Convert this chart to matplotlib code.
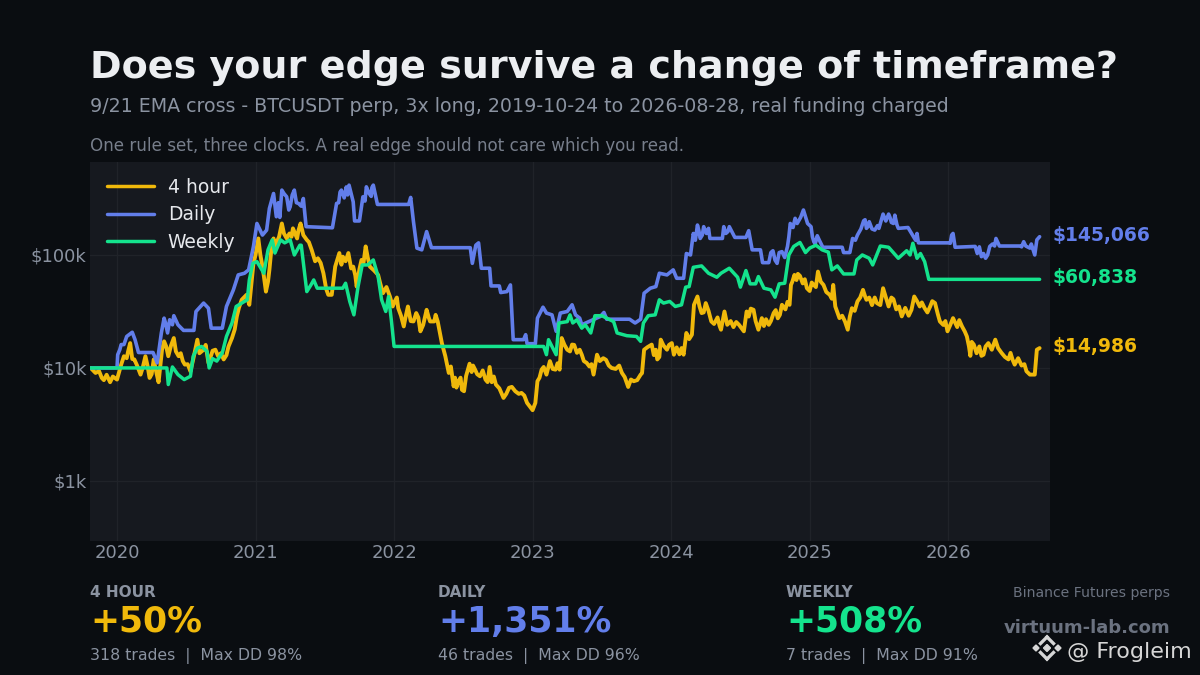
import matplotlib
matplotlib.use("Agg")
import matplotlib.pyplot as plt
from matplotlib.patches import Polygon

BG = "#0a0d11"
PANEL = "#16191f"
GRID = "#202329"
MUTED = "#8b93a1"
GOLD = "#f0b90b"
BLUE = "#627eea"
GREEN = "#14e38d"

years = [2020, 2021, 2022, 2023, 2024, 2025, 2026]
y_ticks = [1000, 10000, 100000]
y_labels = ["$1k", "$10k", "$100k"]

h4_t = [2019.81,2019.845,2019.89,2019.95,2020.0,2020.03,2020.05,2020.095,2020.125,2020.17,2020.205,2020.235,2020.265,2020.30,
2020.325,2020.34,2020.37,2020.41,2020.445,2020.49,2020.53,2020.55,2020.58,2020.625,2020.66,2020.71,2020.73,2020.77,2020.805,2020.83,
2020.865,2020.90,2020.935,2020.955,2020.985,2021.02,2021.05,2021.075,2021.10,2021.13,2021.15,2021.19,2021.225,2021.27,2021.30,2021.325,
2021.37,2021.405,2021.45,2021.49,2021.525,2021.55,2021.575,2021.605,2021.63,2021.67,2021.705,2021.73,2021.765,2021.795,2021.825,2021.885,
2021.92,2021.97,2022.005,2022.03,2022.07,2022.10,2022.14,2022.16,2022.19,2022.235,2022.26,2022.29,2022.30,2022.315,2022.345,2022.37,
2022.395,2022.41,2022.43,2022.465,2022.505,2022.545,2022.585,2022.62,2022.66,2022.69,2022.705,2022.735,2022.79,2022.83,2022.875,2022.92,
2022.96,2023.0,2023.02,2023.035,2023.065,2023.10,2023.125,2023.165,2023.195,2023.21,2023.25,2023.285,2023.32,2023.355,2023.39,2023.44,
2023.465,2023.51,2023.57,2023.645,2023.69,2023.73,2023.78,2023.805,2023.86,2023.90,2023.925,2023.97,2024.005,2024.02,2024.09,2024.11,
2024.15,2024.165,2024.19,2024.22,2024.25,2024.29,2024.36,2024.385,2024.405,2024.49,2024.525,2024.545,2024.595,2024.63,2024.655,2024.705,
2024.74,2024.785,2024.80,2024.855,2024.865,2024.89,2024.93,2024.98,2025.03,2025.06,2025.10,2025.145,2025.17,2025.185,2025.215,2025.255,
2025.275,2025.305,2025.345,2025.385,2025.41,2025.485,2025.53,2025.57,2025.605,2025.665,2025.735,2025.755,2025.795,2025.83,2025.87,2025.905,
2025.94,2025.995,2026.035,2026.10,2026.135,2026.16,2026.185,2026.255,2026.29,2026.34,2026.385,2026.435,2026.45,2026.48,2026.505,2026.565,
2026.59,2026.625,2026.64,2026.66]
h4_v = [10000,9030,8160,7480,7890,10700,12700,16600,11900,8730,12700,8160,11900,7480,
14500,17200,12700,18400,12700,10700,9340,11900,17800,14500,11100,14500,12700,11900,15500,18400,
28600,40100,44400,36200,84300,140000,78900,47400,73800,140000,127000,190000,140000,172000,140000,190000,
136000,111000,93500,68900,44400,44400,78900,104000,96600,104000,78900,52500,90400,119000,78900,66600,
45900,42900,38800,33800,23300,35000,25800,30600,21100,32700,25800,25800,29500,25800,16600,12700,
9030,10300,6880,7630,6220,10900,9660,8440,7890,10200,7480,7130,5430,6670,6220,6010,
4910,4230,4910,7630,9660,8730,11500,9660,9660,18400,14500,16100,13600,13100,11100,8730,
13100,12200,10000,9030,6790,7630,8730,14500,16100,11900,17800,14500,16600,13100,13100,20400,
19700,36200,42900,30600,37500,25800,21800,31600,24100,24100,21100,31600,32700,21800,27600,24100,
30600,29500,36200,36200,54300,66600,65300,50800,54300,71300,54300,44400,54300,35000,27600,25800,
21800,33800,38800,49100,40100,37500,50800,35000,40600,28600,32700,42900,35000,33800,35000,37500,
25800,21100,27600,23300,19000,12800,16100,13100,16600,17800,13600,11900,13600,10700,12200,9350,
8730,8730,14500,14986]

# Smaller swings of the 4 hour line, read separately
h4_fine_t = [2019.87,2019.905,2019.925,2019.97,2020.07,2020.08,2020.11,2020.145,2020.185,2020.22,2020.25,2020.285,2020.355,2020.39,2020.425,2020.46,2020.475,
2020.51,2020.595,2020.64,2020.68,2020.69,2020.75,2020.79,2020.85,2020.88,2021.0,2021.035,2021.06,2021.09,2021.115,2021.14,2021.17,2021.205,2021.245,2021.26,
2021.31,2021.345,2021.385,2021.43,2021.47,2021.51,2021.62,2021.65,2021.69,2021.72,2021.75,2021.78,2021.81,2021.855,2021.90,2021.945,2021.99,2022.02,2022.05,
2022.085,2022.12,2022.175,2022.21,2022.25,2022.44,2022.45,2022.48,2022.49,2022.52,2022.56,2022.57,2022.60,2022.64,2022.675,2022.72,2022.76,2022.81,2022.85,
2022.90,2022.94,2023.05,2023.08,2023.145,2023.18,2023.23,2023.27,2023.30,2023.34,2023.37,2023.41,2023.425,2023.485,2023.53,2023.55,2023.60,2023.625,2023.665,
2023.71,2023.755,2023.79,2023.83,2023.875,2023.89,2023.915,2023.945,2023.985,2024.04,2024.06,2024.075,2024.13,2024.205,2024.235,2024.27,2024.31,2024.335,2024.35,
2024.43,2024.45,2024.47,2024.56,2024.575,2024.61,2024.67,2024.685,2024.72,2024.755,2024.77,2024.825,2024.84,2024.875,2024.905,2024.915,2024.95,2024.965,2025.0,
2025.015,2025.045,2025.08,2025.12,2025.16,2025.2,2025.235,2025.29,2025.325,2025.365,2025.40,2025.43,2025.45,2025.47,2025.51,2025.55,2025.59,2025.625,2025.645,
2025.69,2025.715,2025.775,2025.81,2025.85,2025.885,2025.925,2025.965,2025.98,2026.015,2026.065,2026.08,2026.12,2026.15,2026.17,2026.205,2026.225,2026.24,2026.27,
2026.315,2026.36,2026.41,2026.465,2026.53,2026.55]
h4_fine_v = [9400,7800,8700,8400,12200,14000,12000,10500,10000,10500,8800,9000,15500,15800,14000,13500,11500,
10800,13500,16000,13000,14200,13500,13000,22000,34000,100000,100000,65000,58000,115000,112000,145000,155000,155000,145000,
165000,150000,130000,88000,85000,50000,82000,88000,76000,66000,75000,86000,95000,73000,56000,52000,35000,42000,29000,
29000,26000,28000,24000,28000,8200,6700,8200,6400,8500,9200,10500,8800,9500,7500,8400,6600,5900,6800,
5900,5700,8200,10200,9800,11000,16000,14000,16000,14500,11500,10300,10800,11500,11800,10500,9800,10500,8300,
7900,7800,9000,15300,13000,14500,12500,15800,16000,15200,13200,15000,18000,35000,31000,32000,24500,28000,23500,
26000,23000,25500,28500,33500,26000,23500,27000,26000,32500,27500,33000,38500,58000,60000,68000,56000,61000,48000,
57000,52000,58000,47000,41000,31000,29000,28500,32000,42000,43000,42000,36000,42000,36000,42000,42000,33000,35000,
34000,29000,39000,38000,31000,39000,30000,24000,26000,24000,23000,26500,21000,15500,17000,13500,15500,12800,15500,
14500,15000,12500,11800,10500,10800]

daily_t = [2019.81,2020.0,2020.005,2020.03,2020.05,2020.07,2020.11,2020.13,2020.155,2020.26,2020.29,2020.32,2020.34,2020.365,2020.38,2020.40,2020.41,
2020.44,2020.48,2020.555,2020.57,2020.625,2020.66,2020.68,2020.76,2020.79,2020.84,2020.875,2020.92,2020.95,2020.985,2021.01,2021.05,2021.08,
2021.10,2021.13,2021.15,2021.19,2021.225,2021.25,2021.28,2021.31,2021.345,2021.365,2021.555,2021.585,2021.62,2021.675,2021.705,2021.715,2021.75,
2021.775,2021.80,2021.82,2021.85,2021.88,2022.09,2022.12,2022.14,2022.165,2022.20,2022.235,2022.27,2022.55,2022.565,2022.59,2022.61,2022.63,
2022.69,2022.70,2022.76,2022.77,2022.815,2022.84,2022.86,2022.935,2022.95,2022.96,2023.02,2023.035,2023.075,2023.10,2023.14,2023.17,2023.2,
2023.25,2023.285,2023.31,2023.34,2023.355,2023.49,2023.515,2023.535,2023.70,2023.74,2023.78,2023.805,2023.85,2023.89,2023.915,2023.97,2024.015,
2024.04,2024.09,2024.11,2024.14,2024.16,2024.19,2024.21,2024.235,2024.27,2024.28,2024.37,2024.38,2024.41,2024.42,2024.46,2024.54,2024.56,2024.585,
2024.645,2024.66,2024.705,2024.735,2024.765,2024.80,2024.84,2024.86,2024.895,2024.955,2024.985,2025.01,2025.03,2025.055,2025.095,2025.235,2025.245,
2025.29,2025.31,2025.345,2025.39,2025.41,2025.43,2025.47,2025.5,2025.53,2025.57,2025.59,2025.615,2025.64,2025.71,2025.75,2025.775,2025.785,2026.0,
2026.025,2026.05,2026.195,2026.21,2026.24,2026.27,2026.30,2026.345,2026.37,2026.52,2026.545,2026.59,2026.625,2026.64,2026.66]
daily_v = [10000,10000,13100,16100,16100,19000,20700,17800,13700,13700,11100,20400,27600,20400,26700,24100,29000,
24100,21500,21500,31600,37500,33800,22500,22500,35000,49100,66600,68900,73800,119000,190000,150000,166000,
258000,350000,218000,375000,327000,267000,375000,286000,316000,178000,174000,286000,375000,415000,295000,200000,200000,
327000,401000,350000,415000,280000,280000,323000,197000,115000,111000,161000,116000,116000,84300,122000,128000,76300,
76300,53200,53200,46500,47400,54300,17800,17800,19700,16400,16400,27600,34500,30600,29500,21100,30600,
31600,36200,29500,27600,24100,28600,31000,27000,27000,25000,27000,45900,50800,52500,68900,66600,73800,
62200,62200,103000,100000,155000,184000,140000,178000,172000,140000,140000,178000,161000,178000,143000,143000,164000,111000,
111000,85500,85500,109000,84300,107000,119000,190000,211000,250000,190000,178000,131000,148000,117000,117000,105000,
105000,140000,150000,201000,172000,197000,166000,172000,230000,230000,194000,225000,172000,175000,145000,155000,128000,128000,
150000,117000,119000,103000,96600,93500,119000,140000,120000,120000,131000,115000,100000,136000,145066]

# Smaller swings of the daily line, read separately
daily_fine_t = [2020.02,2020.35,2021.165,2021.175,2021.205,2021.24,2021.265,2021.295,2021.33,2021.60,2021.61,2021.64,2021.655,2021.665,2021.79,2021.835,2021.84,
2022.105,2024.175,2024.20,2024.225,2024.255,2024.395,2024.72,2024.75,2024.78,2024.82,2024.85,2024.88,2024.91,2024.935,2025.02,2025.04,2025.07,2025.33,2025.37,
2025.40,2025.42,2025.45,2025.49,2025.55,2025.58,2025.605,2025.63,2025.765,2026.015,2026.035,2026.225,2026.255,2026.285,2026.32,2026.335,2026.53,2026.56,2026.60]
daily_fine_v = [14500,25000,290000,215000,350000,250000,340000,290000,270000,290000,360000,320000,400000,340000,300000,330000,395000,
280000,135000,165000,150000,155000,155000,105000,90000,105000,95000,145000,175000,190000,215000,145000,125000,135000,135000,170000,
205000,178000,170000,182000,200000,215000,190000,185000,135000,127000,155000,118000,103000,100000,125000,120000,118000,120000,125000]

weekly_t = [2019.81,2020.36,2020.37,2020.40,2020.44,2020.485,2020.53,2020.55,2020.58,2020.61,2020.65,2020.665,2020.69,2020.72,2020.76,2020.79,2020.83,
2020.86,2020.90,2020.94,2020.955,2020.98,2021.01,2021.06,2021.09,2021.12,2021.14,2021.18,2021.21,2021.25,2021.28,2021.32,2021.33,2021.37,2021.40,
2021.42,2021.445,2021.63,2021.65,2021.68,2021.71,2021.74,2021.77,2021.81,2021.85,2021.885,2021.91,2021.94,2021.96,2021.98,2022.0,2023.08,2023.10,
2023.115,2023.17,2023.19,2023.25,2023.27,2023.29,2023.32,2023.355,2023.38,2023.42,2023.45,2023.50,2023.585,2023.61,2023.68,2023.75,2023.78,2023.80,
2023.835,2023.885,2023.915,2023.945,2023.99,2024.03,2024.075,2024.105,2024.13,2024.16,2024.22,2024.27,2024.33,2024.36,2024.42,2024.48,2024.5,2024.54,
2024.57,2024.61,2024.63,2024.67,2024.72,2024.75,2024.78,2024.82,2024.85,2024.885,2024.93,2024.97,2025.0,2025.045,2025.09,2025.135,2025.16,2025.2,
2025.245,2025.32,2025.34,2025.38,2025.43,2025.455,2025.51,2025.57,2025.64,2025.7,2025.725,2025.745,2025.775,2025.8,2025.83,2025.86,2026.66]
weekly_v = [10000,10000,7130,10200,8730,7890,8440,12700,15000,15500,14000,10000,12100,11500,13600,19000,25000,
35000,37500,40100,60100,84300,87300,68900,111000,136000,104000,136000,128000,136000,100000,122000,122000,47400,54300,
60100,50800,50800,56200,38800,29500,52500,81600,81600,90400,64400,40100,31600,42900,26700,15500,15500,13100,
17800,13100,25000,25700,29500,25000,26700,22500,24100,20400,29000,29000,25700,20400,19300,19000,17200,25000,
29000,29500,40100,37500,38800,35000,36200,51900,52500,77800,80000,68900,63500,68900,76300,63500,51900,72800,
55500,55500,64400,50800,49100,42300,55500,56200,100000,119000,129000,105000,115000,122000,111000,106000,73800,80000,
67900,67900,90400,100000,93500,81600,120000,117000,93500,109000,100000,127000,93500,103000,87300,60838,60838]

series_names = ["4 hour", "Daily", "Weekly"]
end_labels = ["$14,986", "$145,066", "$60,838"]
stat_heads = ["4 HOUR", "DAILY", "WEEKLY"]
stat_returns = ["+50%", "+1,351%", "+508%"]
stat_notes = ["318 trades  |  Max DD 98%", "46 trades  |  Max DD 96%", "7 trades  |  Max DD 91%"]

W, H = 1200, 675
fig = plt.figure(figsize=(12, 6.75), dpi=100, facecolor=BG)
ax = fig.add_axes([90 / W, 1 - 541 / H, 960 / W, 379 / H], facecolor=PANEL)


def fx(p):
    return p / W


def fy(p):
    return 1 - p / H


def merged(t, v, ft=(), fv=()):
    pairs = sorted(zip(list(t) + list(ft), list(v) + list(fv)), key=lambda p: p[0])
    return [p[0] for p in pairs], [p[1] for p in pairs]


lines = [merged(h4_t, h4_v, h4_fine_t, h4_fine_v), merged(daily_t, daily_v, daily_fine_t, daily_fine_v), merged(weekly_t, weekly_v)]
colors = [GOLD, BLUE, GREEN]
widths = [2.8, 2.6, 2.5]
for (t, v), c, lw, name in zip(lines, colors, widths, series_names):
    ax.plot(t, v, color=c, lw=lw, label=name, solid_joinstyle="round", solid_capstyle="round")

ax.set_yscale("log")
ax.set_xlim(2019.805, 2026.735)
ax.set_ylim(294, 665000)
ax.set_xticks(years, [str(y) for y in years])
ax.set_yticks(y_ticks, y_labels)
ax.minorticks_off()
ax.tick_params(axis="both", length=0, colors=MUTED, labelsize=13, pad=2.5)
ax.grid(True, color=GRID, lw=1)
ax.set_axisbelow(True)
for s in ax.spines.values():
    s.set_visible(False)

leg = ax.legend(loc="upper left", bbox_to_anchor=(0.0, 1.003), frameon=False, fontsize=13.5, handlelength=2.5,
                handletextpad=0.75, labelspacing=0.46, labelcolor="#e6e8ec")
for line in leg.get_lines():
    line.set_linewidth(2.5)

for (t, v), c, lab in zip(lines, colors, end_labels):
    ax.annotate(lab, xy=(t[-1], v[-1]), xytext=(9, 1), textcoords="offset points", color=c,
                fontsize=13.5, fontweight="bold", va="center", ha="left", annotation_clip=False)

fig.text(fx(90), fy(78.5), "Does your edge survive a change of timeframe?", color="#eceef1",
         fontsize=27.4, fontweight="bold", va="baseline")
fig.text(fx(90), fy(112), "9/21 EMA cross - BTCUSDT perp, 3x long, 2019-10-24 to 2026-08-28, real funding charged",
         color=MUTED, fontsize=13.66, va="baseline")
fig.text(fx(90), fy(151), "One rule set, three clocks. A real edge should not care which you read.",
         color="#777e8b", fontsize=12.1, va="baseline")

for px, head, ret, note, c in zip([90, 438, 786], stat_heads, stat_returns, stat_notes, colors):
    fig.text(fx(px), fy(597), head, color=MUTED, fontsize=11, fontweight="bold", va="baseline")
    fig.text(fx(px), fy(632), ret, color=c, fontsize=25, fontweight="bold", va="baseline")
    fig.text(fx(px), fy(660), note, color=MUTED, fontsize=11.3, va="baseline")

fig.text(fx(1170), fy(597), "Binance Futures perps", color="#6b7280", fontsize=10.1, ha="right", va="baseline")
fig.text(fx(1170), fy(633), "virtuum-lab.com", color="#6b7280", fontsize=13, fontweight="bold", ha="right", va="baseline")
fig.text(fx(1192), fy(658), "@ Frogleim", color="#d6d6d6", fontsize=16, ha="right", va="baseline")

# Exchange mark beside the handle
for cx, cy, r in [(1047, 648, 3.5), (1036, 648, 3.0), (1058, 648, 3.0)]:
    fig.add_artist(Polygon([(fx(cx - r), fy(cy)), (fx(cx), fy(cy - r)), (fx(cx + r), fy(cy)), (fx(cx), fy(cy + r))],
                           closed=True, color="#d6d6d6", transform=fig.transFigure))
for (x1, y1, x2, y2) in [(1040.5, 643.5, 1047, 637), (1047, 637, 1053.5, 643.5), (1040.5, 652.5, 1047, 659), (1047, 659, 1053.5, 652.5)]:
    fig.add_artist(plt.Line2D([fx(x1), fx(x2)], [fy(y1), fy(y2)], color="#d6d6d6", lw=2.4, transform=fig.transFigure))

fig.savefig("out.png", dpi=100, facecolor=BG)
